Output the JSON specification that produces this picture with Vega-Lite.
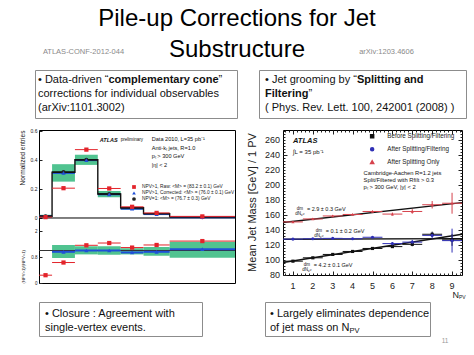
{
"$schema": "https://vega.github.io/schema/vega-lite/v6.json",
"background": "white",
"padding": 0,
"spacing": 0,
"config": {
  "font": "Liberation Sans",
  "view": {"stroke": null},
  "axis": {"domain": false, "grid": false, "labelColor": "#222", "titleColor": "#222", "tickColor": "#222", "titleFontWeight": "normal", "labelOverlap": false, "labelFlush": false},
  "legend": {"titlePadding": 0, "labelColor": "#222"}
},
"datasets": {
  "ltPts": [
    {"s":"NPV=1","lo":0,"hi":20,"m":10,"v":0.012},
    {"s":"NPV=1","lo":20,"hi":55,"m":37.5,"v":0.315},
    {"s":"NPV=1","lo":55,"hi":90,"m":72.5,"v":0.4},
    {"s":"NPV=1","lo":90,"hi":125,"m":107.5,"v":0.165},
    {"s":"NPV=1","lo":125,"hi":160,"m":142.5,"v":0.07},
    {"s":"NPV=1","lo":160,"hi":200,"m":180,"v":0.03},
    {"s":"NPV=1","lo":200,"hi":300,"m":250,"v":0.006},
    {"s":"Corrected","lo":0,"hi":20,"m":10,"v":0.012},
    {"s":"Corrected","lo":20,"hi":55,"m":37.5,"v":0.31},
    {"s":"Corrected","lo":55,"hi":90,"m":72.5,"v":0.398},
    {"s":"Corrected","lo":90,"hi":125,"m":107.5,"v":0.163},
    {"s":"Corrected","lo":125,"hi":160,"m":142.5,"v":0.064},
    {"s":"Corrected","lo":160,"hi":200,"m":180,"v":0.027},
    {"s":"Corrected","lo":200,"hi":300,"m":250,"v":0.006},
    {"s":"Raw","lo":0,"hi":20,"m":10,"v":0.006},
    {"s":"Raw","lo":20,"hi":55,"m":37.5,"v":0.205},
    {"s":"Raw","lo":55,"hi":90,"m":72.5,"v":0.47},
    {"s":"Raw","lo":90,"hi":125,"m":107.5,"v":0.203},
    {"s":"Raw","lo":125,"hi":160,"m":142.5,"v":0.077},
    {"s":"Raw","lo":160,"hi":200,"m":180,"v":0.035},
    {"s":"Raw","lo":200,"hi":300,"m":250,"v":0.011}
  ],
  "ltBand": [
    {"lo":0,"hi":20,"blo":0.002,"bhi":0.022},
    {"lo":20,"hi":55,"blo":0.25,"bhi":0.37},
    {"lo":55,"hi":90,"blo":0.365,"bhi":0.435},
    {"lo":90,"hi":125,"blo":0.142,"bhi":0.185},
    {"lo":125,"hi":160,"blo":0.057,"bhi":0.074},
    {"lo":160,"hi":200,"blo":0.023,"bhi":0.033},
    {"lo":200,"hi":300,"blo":0.004,"bhi":0.008}
  ],
  "lrPts": [
    {"s":"Raw","lo":0,"hi":20,"m":10,"r":0.24},
    {"s":"Raw","lo":20,"hi":55,"m":37.5,"r":0.63},
    {"s":"Raw","lo":55,"hi":90,"m":72.5,"r":1.16},
    {"s":"Raw","lo":90,"hi":125,"m":107.5,"r":1.23},
    {"s":"Raw","lo":125,"hi":160,"m":142.5,"r":1.09},
    {"s":"Raw","lo":160,"hi":200,"m":180,"r":1.17},
    {"s":"Raw","lo":200,"hi":300,"m":250,"r":1.29},
    {"s":"Corrected","lo":20,"hi":55,"m":37.5,"r":0.96},
    {"s":"Corrected","lo":55,"hi":90,"m":72.5,"r":1.0},
    {"s":"Corrected","lo":90,"hi":125,"m":107.5,"r":1.0},
    {"s":"Corrected","lo":125,"hi":160,"m":142.5,"r":0.94},
    {"s":"Corrected","lo":160,"hi":200,"m":180,"r":0.96},
    {"s":"Corrected","lo":200,"hi":300,"m":250,"r":1.04}
  ],
  "lrBand": [
    {"lo":20,"hi":55,"blo":0.77,"bhi":1.17},
    {"lo":55,"hi":90,"blo":0.88,"bhi":1.13},
    {"lo":90,"hi":125,"blo":0.87,"bhi":1.13},
    {"lo":125,"hi":160,"blo":0.88,"bhi":1.07},
    {"lo":160,"hi":200,"blo":0.84,"bhi":1.11},
    {"lo":200,"hi":300,"blo":0.78,"bhi":1.27}
  ],
  "rPts": [
    {"s":"Before Splitting/Filtering","n":1,"lo":0.5,"hi":1.5,"m":98.5,"mlo":97.9,"mhi":99.1},
    {"s":"Before Splitting/Filtering","n":2,"lo":1.5,"hi":2.5,"m":103,"mlo":102.4,"mhi":103.6},
    {"s":"Before Splitting/Filtering","n":3,"lo":2.5,"hi":3.5,"m":107.5,"mlo":106.8,"mhi":108.2},
    {"s":"Before Splitting/Filtering","n":4,"lo":3.5,"hi":4.5,"m":111.5,"mlo":110.7,"mhi":112.3},
    {"s":"Before Splitting/Filtering","n":5,"lo":4.5,"hi":5.5,"m":115.5,"mlo":114.5,"mhi":116.5},
    {"s":"Before Splitting/Filtering","n":6,"lo":5.5,"hi":6.5,"m":118,"mlo":116.5,"mhi":119.5},
    {"s":"Before Splitting/Filtering","n":7,"lo":6.5,"hi":7.5,"m":121,"mlo":118.5,"mhi":123.5},
    {"s":"Before Splitting/Filtering","n":8,"lo":7.5,"hi":8.5,"m":134.5,"mlo":131,"mhi":138},
    {"s":"Before Splitting/Filtering","n":9,"lo":8.5,"hi":9.5,"m":127,"mlo":119,"mhi":135},
    {"s":"After Splitting/Filtering","n":1,"lo":0.5,"hi":1.5,"m":128,"mlo":127.4,"mhi":128.6},
    {"s":"After Splitting/Filtering","n":2,"lo":1.5,"hi":2.5,"m":128.5,"mlo":127.9,"mhi":129.1},
    {"s":"After Splitting/Filtering","n":3,"lo":2.5,"hi":3.5,"m":129,"mlo":128.3,"mhi":129.7},
    {"s":"After Splitting/Filtering","n":4,"lo":3.5,"hi":4.5,"m":128.5,"mlo":127.7,"mhi":129.3},
    {"s":"After Splitting/Filtering","n":5,"lo":4.5,"hi":5.5,"m":130.5,"mlo":129.5,"mhi":131.5},
    {"s":"After Splitting/Filtering","n":6,"lo":5.5,"hi":6.5,"m":122,"mlo":120,"mhi":124},
    {"s":"After Splitting/Filtering","n":7,"lo":6.5,"hi":7.5,"m":124,"mlo":121,"mhi":127},
    {"s":"After Splitting/Filtering","n":8,"lo":7.5,"hi":8.5,"m":133,"mlo":129,"mhi":137},
    {"s":"After Splitting/Filtering","n":9,"lo":8.5,"hi":9.5,"m":126,"mlo":110,"mhi":142},
    {"s":"After Splitting Only","n":1,"lo":0.5,"hi":1.5,"m":151,"mlo":150.4,"mhi":151.6},
    {"s":"After Splitting Only","n":2,"lo":1.5,"hi":2.5,"m":155,"mlo":154.4,"mhi":155.6},
    {"s":"After Splitting Only","n":3,"lo":2.5,"hi":3.5,"m":159,"mlo":158.3,"mhi":159.7},
    {"s":"After Splitting Only","n":4,"lo":3.5,"hi":4.5,"m":161,"mlo":160.2,"mhi":161.8},
    {"s":"After Splitting Only","n":5,"lo":4.5,"hi":5.5,"m":165,"mlo":164,"mhi":166},
    {"s":"After Splitting Only","n":6,"lo":5.5,"hi":6.5,"m":161.5,"mlo":159.5,"mhi":163.5},
    {"s":"After Splitting Only","n":7,"lo":6.5,"hi":7.5,"m":165,"mlo":162,"mhi":168},
    {"s":"After Splitting Only","n":8,"lo":7.5,"hi":8.5,"m":174,"mlo":169,"mhi":179},
    {"s":"After Splitting Only","n":9,"lo":8.5,"hi":9.5,"m":176,"mlo":162,"mhi":190}
  ],
  "rFit": [
    {"s":"After Splitting Only","n":0.5,"m":150.3},
    {"s":"After Splitting Only","n":9.5,"m":176.8},
    {"s":"After Splitting/Filtering","n":0.5,"m":127.8},
    {"s":"After Splitting/Filtering","n":9.5,"m":128.7},
    {"s":"Before Splitting/Filtering","n":0.5,"m":96.8},
    {"s":"Before Splitting/Filtering","n":9.5,"m":134.6}
  ],
  "rXt": [{"n":1},{"n":2},{"n":3},{"n":4},{"n":5},{"n":6},{"n":7},{"n":8},{"n":9}],
  "rYt": [{"m":80},{"m":100},{"m":120},{"m":140},{"m":160},{"m":180},{"m":200},{"m":220},{"m":240},{"m":260}]
},
"vconcat": [
  {
    "spacing": 0, "bounds": "flush",
    "hconcat": [
      {"width": 167, "height": 69,
       "data": {"values": [{"line": 2, "text": "ATLAS-CONF-2012-044"}]},
       "mark": {"type": "text", "fontSize": 7.5, "color": "#8a8a8a", "baseline": "middle", "dy": 2},
       "encoding": {"y": {"field": "line", "type": "ordinal", "axis": null, "scale": {"domain": [1, 2], "padding": 0.62}}, "text": {"field": "text"}}},
      {"width": 140, "height": 69,
       "data": {"values": [{"line": 1, "text": "Pile-up Corrections for Jet"}, {"line": 2, "text": "Substructure"}]},
       "mark": {"type": "text", "fontSize": 24, "color": "#000", "baseline": "middle"},
       "encoding": {"y": {"field": "line", "type": "ordinal", "axis": null, "scale": {"domain": [1, 2], "padding": 0.62}}, "text": {"field": "text"}}},
      {"width": 159, "height": 69,
       "data": {"values": [{"line": 2, "text": "arXiv:1203.4606"}]},
       "mark": {"type": "text", "fontSize": 7.5, "color": "#8a8a8a", "baseline": "middle", "dy": 2},
       "encoding": {"y": {"field": "line", "type": "ordinal", "axis": null, "scale": {"domain": [1, 2], "padding": 0.62}}, "text": {"field": "text"}}},
      {"width": 8, "height": 69, "data": {"values": []}, "mark": "point"}
    ]
  },
  {
    "spacing": 0, "bounds": "flush",
    "hconcat": [
      {"width": 35, "height": 48, "data": {"values": []}, "mark": "point"},
      {"width": 202, "height": 48,
       "view": {"stroke": "#8c8c8c", "strokeWidth": 1},
       "encoding": {
         "x": {"field": "box", "type": "nominal", "axis": null, "bandPosition": 0, "scale": {"type": "band", "paddingInner": 0, "paddingOuter": 0}},
         "y": {"field": "line", "type": "ordinal", "axis": null, "scale": {"domain": [1, 2, 3], "padding": 0.75}},
         "text": {"field": "text"}
       },
       "layer": [
         {"data": {"values": [{"box": "a", "line": 1, "text": "• Data-driven “"}, {"box": "a", "line": 2, "text": "corrections for individual observables"}, {"box": "a", "line": 3, "text": "(arXiv:1101.3002)"}]},
          "mark": {"type": "text", "align": "left", "baseline": "middle", "fontSize": 11, "dx": 3, "color": "#111"}},
         {"data": {"values": [{"box": "a", "line": 1, "text": "complementary cone"}]},
          "mark": {"type": "text", "align": "left", "baseline": "middle", "fontSize": 11, "fontWeight": "bold", "dx": 73.5, "color": "#111"}},
         {"data": {"values": [{"box": "a", "line": 1, "text": "”"}]},
          "mark": {"type": "text", "align": "left", "baseline": "middle", "fontSize": 11, "dx": 183.5, "color": "#111"}}
       ]},
      {"width": 22, "height": 48, "data": {"values": []}, "mark": "point"},
      {"width": 207, "height": 48,
       "view": {"stroke": "#8c8c8c", "strokeWidth": 1},
       "encoding": {
         "x": {"field": "box", "type": "nominal", "axis": null, "bandPosition": 0, "scale": {"type": "band", "paddingInner": 0, "paddingOuter": 0}},
         "y": {"field": "line", "type": "ordinal", "axis": null, "scale": {"domain": [1, 2, 3], "padding": 0.75}},
         "text": {"field": "text"}
       },
       "layer": [
         {"data": {"values": [{"box": "b", "line": 1, "text": "• Jet grooming by “"}, {"box": "b", "line": 3, "text": "( Phys. Rev. Lett. 100, 242001 (2008) )"}]},
          "mark": {"type": "text", "align": "left", "baseline": "middle", "fontSize": 11, "dx": 6, "color": "#111"}},
         {"data": {"values": [{"box": "b", "line": 1, "text": "Splitting and"}]},
          "mark": {"type": "text", "align": "left", "baseline": "middle", "fontSize": 11, "fontWeight": "bold", "dx": 97.9, "color": "#111"}},
         {"data": {"values": [{"box": "b", "line": 2, "text": "Filtering"}]},
          "mark": {"type": "text", "align": "left", "baseline": "middle", "fontSize": 11, "fontWeight": "bold", "dx": 6, "color": "#111"}},
         {"data": {"values": [{"box": "b", "line": 2, "text": "”"}]},
          "mark": {"type": "text", "align": "left", "baseline": "middle", "fontSize": 11, "dx": 49.4, "color": "#111"}}
       ]}
    ]
  },
  {"width": 1, "height": 9, "data": {"values": []}, "mark": "point"},
  {
    "spacing": 0, "bounds": "flush",
    "resolve": {"scale": {"color": "independent", "shape": "independent"}},
    "hconcat": [
      {"width": 39, "height": 1, "data": {"values": []}, "mark": "point"},
      {
        "width": 196, "height": 153,
        "view": {"stroke": "#000", "strokeWidth": 1},
        "resolve": {"scale": {"y": "independent"}, "axis": {"y": "independent"}},
        "layer": [
          {
            "layer": [
              {"data": {"name": "ltBand"},
               "mark": {"type": "rect", "color": "#3dbc84", "opacity": 0.9},
               "encoding": {
                 "x": {"field": "lo", "type": "quantitative", "scale": {"domain": [0, 300], "nice": false, "zero": false}, "axis": null},
                 "x2": {"field": "hi"},
                 "y": {"field": "blo", "type": "quantitative", "scale": {"domain": [-0.4469, 0.605], "nice": false, "zero": false},
                       "axis": {"orient": "left", "values": [0, 0.1, 0.2, 0.3, 0.4, 0.5, 0.6], "format": "~g", "labelOverlap": false, "tickSize": -3, "labelPadding": 5, "labelFontSize": 5, "title": "Normalized entries", "titleFontSize": 6.6, "titleAnchor": "end", "titlePadding": 5}},
                 "y2": {"field": "bhi"}
               }},
              {"data": {"values": [{}]}, "mark": {"type": "rule", "color": "#000", "strokeWidth": 1}, "encoding": {"y": {"datum": 0}}},
              {"data": {"name": "ltPts"}, "transform": [{"filter": "datum.s == 'Corrected'"}],
               "mark": {"type": "rule", "color": "#1f4fd8", "strokeWidth": 2},
               "encoding": {"x": {"field": "lo", "type": "quantitative"}, "x2": {"field": "hi"}, "y": {"field": "v", "type": "quantitative"}}},
              {"data": {"name": "ltPts"}, "transform": [{"filter": "datum.s == 'NPV=1'"}],
               "mark": {"type": "line", "interpolate": "step-after", "color": "#111", "strokeWidth": 1.4},
               "encoding": {"x": {"field": "lo", "type": "quantitative"}, "y": {"field": "v", "type": "quantitative"}}},
              {"data": {"name": "ltPts"}, "transform": [{"filter": "datum.s == 'NPV=1'"}],
               "mark": {"type": "rule", "color": "#111", "strokeWidth": 1.4},
               "encoding": {"x": {"field": "lo", "type": "quantitative"}, "x2": {"field": "hi"}, "y": {"field": "v", "type": "quantitative"}}},
              {"data": {"name": "ltPts"}, "transform": [{"filter": "datum.s == 'Raw'"}],
               "mark": {"type": "rule", "color": "#e3242b", "strokeWidth": 1},
               "encoding": {"x": {"field": "lo", "type": "quantitative"}, "x2": {"field": "hi"}, "y": {"field": "v", "type": "quantitative"}}},
              {"data": {"name": "ltPts"},
               "mark": {"type": "point", "filled": true, "size": 18, "opacity": 1},
               "encoding": {
                 "x": {"field": "m", "type": "quantitative"},
                 "y": {"field": "v", "type": "quantitative"},
                 "color": {"field": "s", "type": "nominal", "scale": {"domain": ["Raw", "Corrected", "NPV=1"], "range": ["#e3242b", "#1f4fd8", "#222222"]},
                           "legend": {"orient": "none", "legendX": 92, "legendY": 54, "title": null, "labelFontSize": 4.8, "symbolSize": 14, "rowPadding": 1, "labelOffset": 5,
                                      "labelExpr": "datum.label == 'Raw' ? 'NPV>1, Raw: <M> = (83.2 ± 0.1) GeV' : datum.label == 'Corrected' ? 'NPV>1, Corrected: <M> = (76.0 ± 0.1) GeV' : 'NPV=1: <M> = (76.7 ± 0.3) GeV'"}},
                 "shape": {"field": "s", "type": "nominal", "scale": {"domain": ["Raw", "Corrected", "NPV=1"], "range": ["square", "triangle-up", "circle"]}}
               }},
              {"data": {"values": [{}]},
               "mark": {"type": "text", "text": "ATLAS", "fontSize": 5.5, "fontWeight": "bold", "fontStyle": "italic", "align": "left", "baseline": "middle", "color": "#111"},
               "encoding": {"x": {"datum": 93}, "y": {"datum": 0.536}}},
              {"data": {"values": [{}]},
               "mark": {"type": "text", "text": "preliminary", "fontSize": 4.6, "align": "left", "baseline": "middle", "color": "#111"},
               "encoding": {"x": {"datum": 125}, "y": {"datum": 0.536}}},
              {"data": {"values": [{}]},
               "mark": {"type": "text", "text": ["Data 2010, L=35 pb⁻¹", "Anti-kₜ jets, R=1.0", "pₜ > 300 GeV", "|η| < 2"], "fontSize": 5.6, "lineHeight": 8.9, "align": "left", "baseline": "top", "color": "#111"},
               "encoding": {"x": {"datum": 172.5}, "y": {"datum": 0.559}}}
            ]
          },
          {
            "layer": [
              {"data": {"name": "lrBand"},
               "mark": {"type": "rect", "color": "#3dbc84", "opacity": 0.9},
               "encoding": {
                 "x": {"field": "lo", "type": "quantitative",
                       "axis": {"values": [0, 50, 100, 150, 200, 250, 300], "format": "~g", "labelOverlap": false, "labelFontSize": 6, "tickSize": -3, "labelPadding": 4,
                                "title": "Mass [GeV]", "titleFontSize": 6.5, "titleAnchor": "end", "titlePadding": 1}},
                 "x2": {"field": "hi"},
                 "y": {"field": "blo", "type": "quantitative", "scale": {"domain": [0, 4.7077], "nice": false, "zero": false},
                       "axis": {"orient": "left", "values": [0, 0.2, 0.4, 0.6, 0.8, 1, 1.2, 1.4, 1.6, 1.8], "format": "~g", "labelOverlap": false, "tickSize": -3, "labelPadding": 5, "labelFontSize": 4.5,
                                "title": "(NPV>1)/(NPV=1)", "titleFontSize": 4.2, "titleAnchor": "start", "titlePadding": 5}},
                 "y2": {"field": "bhi"}
               }},
              {"data": {"values": [{}]}, "mark": {"type": "rule", "color": "#333", "strokeWidth": 1}, "encoding": {"y": {"datum": 1}}},
              {"data": {"name": "lrPts"}, "transform": [{"filter": "datum.s == 'Corrected'"}],
               "mark": {"type": "rule", "color": "#1f4fd8", "strokeWidth": 2},
               "encoding": {"x": {"field": "lo", "type": "quantitative"}, "x2": {"field": "hi"}, "y": {"field": "r", "type": "quantitative"}}},
              {"data": {"name": "lrPts"}, "transform": [{"filter": "datum.s == 'Raw'"}],
               "mark": {"type": "rule", "color": "#e3242b", "strokeWidth": 1},
               "encoding": {"x": {"field": "lo", "type": "quantitative"}, "x2": {"field": "hi"}, "y": {"field": "r", "type": "quantitative"}}},
              {"data": {"name": "lrPts"}, "transform": [{"filter": "datum.s == 'Corrected'"}],
               "mark": {"type": "point", "shape": "triangle-up", "filled": true, "size": 18, "color": "#1f4fd8", "opacity": 1},
               "encoding": {"x": {"field": "m", "type": "quantitative"}, "y": {"field": "r", "type": "quantitative"}}},
              {"data": {"name": "lrPts"}, "transform": [{"filter": "datum.s == 'Raw'"}],
               "mark": {"type": "point", "shape": "square", "filled": true, "size": 18, "color": "#e3242b", "opacity": 1},
               "encoding": {"x": {"field": "m", "type": "quantitative"}, "y": {"field": "r", "type": "quantitative"}}}
            ]
          }
        ]
      },
      {"width": 12, "height": 1, "data": {"values": []}, "mark": "point"},
      {"width": 12, "height": 145,
       "data": {"values": [{"title": "Mean Jet Mass [GeV] / 1 PV"}]},
       "mark": {"type": "text", "fontSize": 11, "angle": 270, "align": "center", "baseline": "middle", "color": "#222"},
       "encoding": {"text": {"field": "title"}}},
      {"width": 24, "height": 1, "data": {"values": []}, "mark": "point"},
      {
        "width": 179, "height": 145,
        "view": {"stroke": "#000", "strokeWidth": 1},
        "resolve": {"axis": {"x": "independent", "y": "independent"}},
        "layer": [
          {
            "layer": [
              {"data": {"name": "rFit"},
               "mark": {"type": "line", "color": "#111", "strokeWidth": 1.4},
               "encoding": {
                 "x": {"field": "n", "type": "quantitative", "scale": {"domain": [0.5, 9.5], "nice": false, "zero": false},
                       "axis": {"orient": "bottom", "values": [1, 2, 3, 4, 5, 6, 7, 8, 9], "labels": false, "tickSize": -4, "title": null}},
                 "y": {"field": "m", "type": "quantitative", "scale": {"domain": [80, 274], "nice": false, "zero": false},
                       "axis": {"orient": "left", "values": [80, 100, 120, 140, 160, 180, 200, 220, 240, 260], "labels": false, "tickSize": -4, "title": null}},
                 "detail": {"field": "s"}
               }},
              {"data": {"name": "rXt"},
               "mark": {"type": "text", "fontSize": 9, "baseline": "middle", "dy": 11, "color": "#222"},
               "encoding": {"x": {"field": "n", "type": "quantitative"}, "y": {"datum": 80}, "text": {"field": "n", "type": "quantitative", "format": "d"}}},
              {"data": {"name": "rYt"},
               "mark": {"type": "text", "fontSize": 9, "align": "right", "baseline": "middle", "dx": -3, "color": "#222"},
               "encoding": {"x": {"datum": 0.5}, "y": {"field": "m", "type": "quantitative"}, "text": {"field": "m", "type": "quantitative", "format": "d"}}},
              {"data": {"name": "rPts"},
               "mark": {"type": "rule", "strokeWidth": 1},
               "encoding": {
                 "x": {"field": "lo", "type": "quantitative"}, "x2": {"field": "hi"},
                 "y": {"field": "m", "type": "quantitative"},
                 "color": {"field": "s", "type": "nominal", "scale": {"domain": ["Before Splitting/Filtering", "After Splitting/Filtering", "After Splitting Only"], "range": ["#111111", "#2f2fb5", "#d6424c"]}}
               }},
              {"data": {"name": "rPts"},
               "mark": {"type": "rule", "strokeWidth": 1},
               "encoding": {
                 "x": {"field": "n", "type": "quantitative"},
                 "y": {"field": "mlo", "type": "quantitative"}, "y2": {"field": "mhi"},
                 "color": {"field": "s", "type": "nominal"}
               }},
              {"data": {"name": "rPts"},
               "mark": {"type": "point", "filled": true, "size": 10, "opacity": 1},
               "encoding": {
                 "x": {"field": "n", "type": "quantitative"},
                 "y": {"field": "m", "type": "quantitative"},
                 "color": {"field": "s", "type": "nominal",
                           "legend": {"orient": "none", "legendX": 86, "legendY": 3, "title": null, "labelFontSize": 6.3, "symbolSize": 9, "rowPadding": 3, "labelOffset": 12}},
                 "shape": {"field": "s", "type": "nominal", "scale": {"domain": ["Before Splitting/Filtering", "After Splitting/Filtering", "After Splitting Only"], "range": ["square", "circle", "triangle-up"]}}
               }},
              {"data": {"values": [{}]},
               "mark": {"type": "text", "text": "ATLAS", "fontSize": 7.5, "fontWeight": "bold", "fontStyle": "italic", "align": "left", "baseline": "middle", "color": "#111"},
               "encoding": {"x": {"datum": 1.0}, "y": {"datum": 259}}},
              {"data": {"values": [{}]},
               "mark": {"type": "text", "text": "∫L = 35 pb⁻¹", "fontSize": 6, "align": "left", "baseline": "middle", "color": "#111"},
               "encoding": {"x": {"datum": 1.0}, "y": {"datum": 244}}},
              {"data": {"values": [{}]},
               "mark": {"type": "text", "text": ["Cambridge-Aachen R=1.2 jets", "Split/Filtered with Rfilt > 0.3", "pₜ > 300 GeV, |y| < 2"], "fontSize": 5.8, "lineHeight": 7, "align": "left", "baseline": "top", "color": "#111"},
               "encoding": {"x": {"datum": 4.55}, "y": {"datum": 220}}},
              {"data": {"values": [{}]},
               "mark": {"type": "text", "text": ["dm", "dNₚᵥ"], "fontSize": 4.5, "lineHeight": 5, "align": "center", "baseline": "middle", "color": "#111"},
               "encoding": {"x": {"datum": 1.35}, "y": {"datum": 168}}},
              {"data": {"values": [{}]},
               "mark": {"type": "text", "text": "= 2.9 ± 0.3 GeV", "fontSize": 5.5, "align": "left", "baseline": "middle", "dx": 7, "color": "#111"},
               "encoding": {"x": {"datum": 1.35}, "y": {"datum": 168}}},
              {"data": {"values": [{}]},
               "mark": {"type": "text", "text": ["dm", "dNₚᵥ"], "fontSize": 4.5, "lineHeight": 5, "align": "center", "baseline": "middle", "color": "#111"},
               "encoding": {"x": {"datum": 2.3}, "y": {"datum": 139}}},
              {"data": {"values": [{}]},
               "mark": {"type": "text", "text": "= 0.1 ± 0.2 GeV", "fontSize": 5.5, "align": "left", "baseline": "middle", "dx": 7, "color": "#111"},
               "encoding": {"x": {"datum": 2.3}, "y": {"datum": 139}}},
              {"data": {"values": [{}]},
               "mark": {"type": "text", "text": ["dm", "dNₚᵥ"], "fontSize": 4.5, "lineHeight": 5, "align": "center", "baseline": "middle", "color": "#111"},
               "encoding": {"x": {"datum": 1.7}, "y": {"datum": 94}}},
              {"data": {"values": [{}]},
               "mark": {"type": "text", "text": "= 4.2 ± 0.1 GeV", "fontSize": 5.5, "align": "left", "baseline": "middle", "dx": 7, "color": "#111"},
               "encoding": {"x": {"datum": 1.7}, "y": {"datum": 94}}},
              {"data": {"values": [{}]},
               "mark": {"type": "text", "text": "N", "fontSize": 9, "align": "right", "baseline": "middle", "dx": -3, "color": "#222"},
               "encoding": {"x": {"datum": 9.5}, "y": {"datum": 53.5}}},
              {"data": {"values": [{}]},
               "mark": {"type": "text", "text": "PV", "fontSize": 5, "align": "left", "baseline": "middle", "dx": -3, "dy": 2.5, "color": "#222"},
               "encoding": {"x": {"datum": 9.5}, "y": {"datum": 53.5}}}
            ]
          },
          {"data": {"values": []}, "mark": "point",
           "encoding": {
             "x": {"field": "n", "type": "quantitative", "axis": {"orient": "top", "values": [1, 2, 3, 4, 5, 6, 7, 8, 9], "labels": false, "tickSize": -4, "title": null}},
             "y": {"field": "m", "type": "quantitative", "axis": {"orient": "right", "values": [80, 100, 120, 140, 160, 180, 200, 220, 240, 260], "labels": false, "tickSize": -4, "title": null}}
           }},
          {"data": {"values": []}, "mark": "point",
           "encoding": {
             "x": {"field": "n", "type": "quantitative", "axis": {"orient": "top", "values": [0.6,0.8,1,1.2,1.4,1.6,1.8,2,2.2,2.4,2.6,2.8,3,3.2,3.4,3.6,3.8,4,4.2,4.4,4.6,4.8,5,5.2,5.4,5.6,5.8,6,6.2,6.4,6.6,6.8,7,7.2,7.4,7.6,7.8,8,8.2,8.4,8.6,8.8,9,9.2,9.4], "labels": false, "tickSize": -2, "title": null}},
             "y": {"field": "m", "type": "quantitative", "axis": {"orient": "right", "values": [84,88,92,96,100,104,108,112,116,120,124,128,132,136,140,144,148,152,156,160,164,168,172,176,180,184,188,192,196,200,204,208,212,216,220,224,228,232,236,240,244,248,252,256,260,264,268,272], "labels": false, "tickSize": -2, "title": null}}
           }},
          {"data": {"values": []}, "mark": "point",
           "encoding": {
             "x": {"field": "n", "type": "quantitative", "axis": {"orient": "bottom", "values": [0.6,0.8,1,1.2,1.4,1.6,1.8,2,2.2,2.4,2.6,2.8,3,3.2,3.4,3.6,3.8,4,4.2,4.4,4.6,4.8,5,5.2,5.4,5.6,5.8,6,6.2,6.4,6.6,6.8,7,7.2,7.4,7.6,7.8,8,8.2,8.4,8.6,8.8,9,9.2,9.4], "labels": false, "tickSize": -2, "title": null}},
             "y": {"field": "m", "type": "quantitative", "axis": {"orient": "left", "values": [84,88,92,96,100,104,108,112,116,120,124,128,132,136,140,144,148,152,156,160,164,168,172,176,180,184,188,192,196,200,204,208,212,216,220,224,228,232,236,240,244,248,252,256,260,264,268,272], "labels": false, "tickSize": -2, "title": null}}
           }}
        ]
      }
    ]
  },
  {
    "spacing": 0, "bounds": "flush",
    "hconcat": [
      {"width": 39, "height": 34, "data": {"values": []}, "mark": "point"},
      {"width": 163, "height": 34,
       "view": {"stroke": "#8c8c8c", "strokeWidth": 1},
       "encoding": {
         "x": {"field": "box", "type": "nominal", "axis": null, "bandPosition": 0, "scale": {"type": "band", "paddingInner": 0, "paddingOuter": 0}},
         "y": {"field": "line", "type": "ordinal", "axis": null, "scale": {"domain": [1, 2], "padding": 0.7}},
         "text": {"field": "text"}
       },
       "layer": [
         {"data": {"values": [{"box": "c", "line": 1, "text": "• Closure : Agreement with"}, {"box": "c", "line": 2, "text": "single-vertex events."}]},
          "mark": {"type": "text", "align": "left", "baseline": "middle", "fontSize": 11, "dx": 6, "dy": 2, "color": "#111"}}
       ]},
      {"width": 63, "height": 34, "data": {"values": []}, "mark": "point"},
      {"width": 165, "height": 34,
       "view": {"stroke": "#8c8c8c", "strokeWidth": 1},
       "encoding": {
         "x": {"field": "box", "type": "nominal", "axis": null, "bandPosition": 0, "scale": {"type": "band", "paddingInner": 0, "paddingOuter": 0}},
         "y": {"field": "line", "type": "ordinal", "axis": null, "scale": {"domain": [1, 2], "padding": 0.7}},
         "text": {"field": "text"}
       },
       "layer": [
         {"data": {"values": [{"box": "d", "line": 1, "text": "• Largely eliminates dependence"}, {"box": "d", "line": 2, "text": "of jet mass on N"}]},
          "mark": {"type": "text", "align": "left", "baseline": "middle", "fontSize": 11, "dx": 5, "dy": 2, "color": "#111"}},
         {"data": {"values": [{"box": "d", "line": 2, "text": "PV"}]},
          "mark": {"type": "text", "align": "left", "baseline": "middle", "fontSize": 7.5, "dx": 84.5, "dy": 5, "color": "#111"}}
       ]},
      {"width": 2, "height": 34, "data": {"values": []}, "mark": "point"},
      {"width": 26, "height": 50,
       "data": {"values": [{"page": "11"}]},
       "mark": {"type": "text", "fontSize": 6.5, "color": "#9a9a9a", "baseline": "middle", "dy": 14},
       "encoding": {"text": {"field": "page"}}}
    ]
  }
]
}
